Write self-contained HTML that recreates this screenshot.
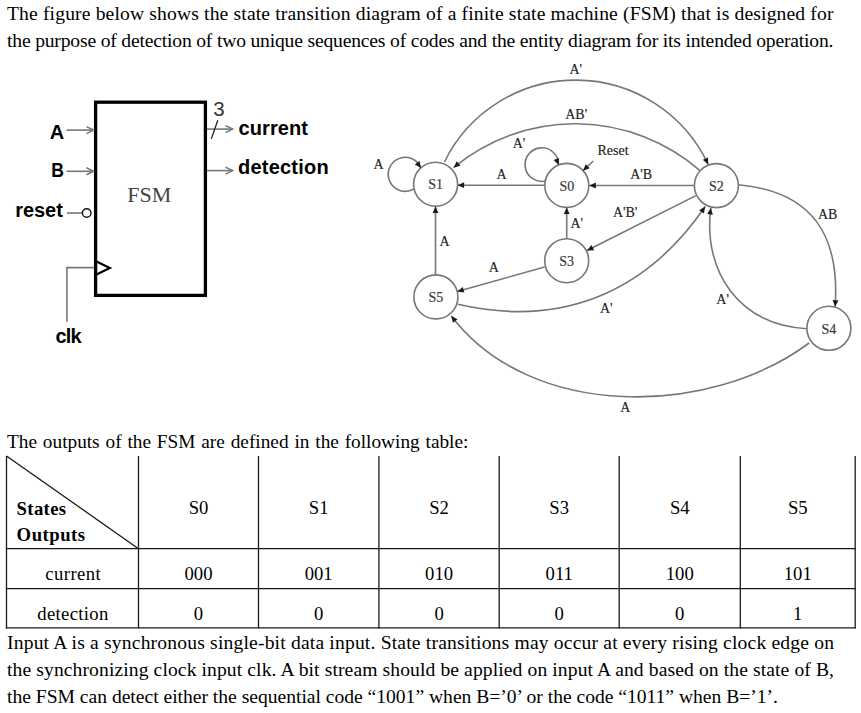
<!DOCTYPE html>
<html><head><meta charset="utf-8"><title>FSM</title>
<style>html,body{margin:0;padding:0;background:#fff;width:861px;height:713px;overflow:hidden}svg{display:block}</style>
</head><body>
<svg width="861" height="713" viewBox="0 0 861 713">
<text x="7" y="19.8" font-family='"Liberation Serif", serif' font-size="19.6" font-weight="400" fill="#000" text-anchor="start" textLength="826.5" lengthAdjust="spacing" >The figure below shows the state transition diagram of a finite state machine (FSM) that is designed for</text>
<text x="7" y="46.6" font-family='"Liberation Serif", serif' font-size="19.6" font-weight="400" fill="#000" text-anchor="start" textLength="826.5" lengthAdjust="spacing" >the purpose of detection of two unique sequences of codes and the entity diagram for its intended operation.</text>
<text x="7" y="447.9" font-family='"Liberation Serif", serif' font-size="19.3" font-weight="400" fill="#000" text-anchor="start" word-spacing="1.05">The outputs of the FSM are defined in the following table:</text>
<text x="7" y="648.6" font-family='"Liberation Serif", serif' font-size="19.6" font-weight="400" fill="#000" text-anchor="start" textLength="827" lengthAdjust="spacing" >Input A is a synchronous single-bit data input. State transitions may occur at every rising clock edge on</text>
<text x="7" y="676.3" font-family='"Liberation Serif", serif' font-size="19.6" font-weight="400" fill="#000" text-anchor="start" textLength="827" lengthAdjust="spacing" >the synchronizing clock input clk. A bit stream should be applied on input A and based on the state of B,</text>
<text x="7" y="703.2" font-family='"Liberation Serif", serif' font-size="19.6" font-weight="400" fill="#000" text-anchor="start" textLength="771" lengthAdjust="spacing" >the FSM can detect either the sequential code “1001” when B=’0’ or the code “1011” when B=’1’.</text>
<rect x="95.6" y="102.2" width="109.8" height="193.2" fill="none" stroke="#000" stroke-width="3.3"/>
<text x="149.2" y="201.5" font-family='"Liberation Serif", serif' font-size="22" font-weight="400" fill="#444" text-anchor="middle" textLength="44" lengthAdjust="spacing" >FSM</text>
<text x="49.8" y="138.6" font-family='"Liberation Sans", sans-serif' font-size="20" font-weight="700" fill="#000" text-anchor="start" >A</text>
<g transform="translate(51.2,176.7) scale(0.88,1)">
<text x="0" y="0" font-family='"Liberation Sans", sans-serif' font-size="20" font-weight="700" fill="#000" text-anchor="start" >B</text>
</g>
<text x="15.2" y="216.8" font-family='"Liberation Sans", sans-serif' font-size="20" font-weight="700" fill="#000" text-anchor="start" textLength="47.6" lengthAdjust="spacing" >reset</text>
<text x="55.5" y="342.5" font-family='"Liberation Sans", sans-serif' font-size="20" font-weight="700" fill="#000" text-anchor="start" textLength="26" lengthAdjust="spacing" >clk</text>
<text x="238.6" y="134.8" font-family='"Liberation Sans", sans-serif' font-size="20" font-weight="700" fill="#000" text-anchor="start" textLength="69.4" lengthAdjust="spacing" >current</text>
<text x="238" y="174.2" font-family='"Liberation Sans", sans-serif' font-size="20" font-weight="700" fill="#000" text-anchor="start" textLength="90.7" lengthAdjust="spacing" >detection</text>
<text x="213.3" y="116" font-family='"Liberation Sans", sans-serif' font-size="20.5" font-weight="400" fill="#333" text-anchor="start" >3</text>
<line x1="66.5" y1="130.1" x2="93.5" y2="130.1" stroke="#777" stroke-width="1.6"/>
<polyline points="86.5,126.6 93.5,130.1 86.5,133.6" fill="none" stroke="#777" stroke-width="1.6"/>
<line x1="66.5" y1="171.3" x2="93.5" y2="171.3" stroke="#777" stroke-width="1.6"/>
<polyline points="86.5,167.8 93.5,171.3 86.5,174.8" fill="none" stroke="#777" stroke-width="1.6"/>
<line x1="207" y1="129.1" x2="232.5" y2="129.1" stroke="#777" stroke-width="1.6"/>
<polyline points="225.5,125.6 232.5,129.1 225.5,132.6" fill="none" stroke="#777" stroke-width="1.6"/>
<line x1="207" y1="170.6" x2="232.5" y2="170.6" stroke="#777" stroke-width="1.6"/>
<polyline points="225.5,167.1 232.5,170.6 225.5,174.1" fill="none" stroke="#777" stroke-width="1.6"/>
<line x1="211.3" y1="138.9" x2="217.8" y2="120.2" stroke="#222" stroke-width="1.3"/>
<line x1="66.9" y1="213" x2="82.2" y2="213" stroke="#777" stroke-width="1.6"/>
<circle cx="86.7" cy="213" r="4.3" fill="#fff" stroke="#111" stroke-width="1.4"/>
<polyline points="66.9,321.8 66.9,267.6 94,267.6" fill="none" stroke="#777" stroke-width="1.6"/>
<polyline points="96.5,261.5 109.8,268.1 96.5,274.5" fill="none" stroke="#000" stroke-width="2.2"/>
<circle cx="435.6" cy="184.2" r="22" fill="none" stroke="#777" stroke-width="1.6"/>
<text x="435.6" y="189.39999999999998" font-family='"Liberation Serif", serif' font-size="14" font-weight="400" fill="#3a3a3a" text-anchor="middle" stroke="#3a3a3a" stroke-width="0.2">S1</text>
<circle cx="566.8" cy="185.4" r="22" fill="none" stroke="#777" stroke-width="1.6"/>
<text x="566.8" y="190.6" font-family='"Liberation Serif", serif' font-size="14" font-weight="400" fill="#3a3a3a" text-anchor="middle" stroke="#3a3a3a" stroke-width="0.2">S0</text>
<circle cx="716.4" cy="185.6" r="22" fill="none" stroke="#777" stroke-width="1.6"/>
<text x="716.4" y="190.79999999999998" font-family='"Liberation Serif", serif' font-size="14" font-weight="400" fill="#3a3a3a" text-anchor="middle" stroke="#3a3a3a" stroke-width="0.2">S2</text>
<circle cx="566.7" cy="260.7" r="22" fill="none" stroke="#777" stroke-width="1.6"/>
<text x="566.7" y="265.9" font-family='"Liberation Serif", serif' font-size="14" font-weight="400" fill="#3a3a3a" text-anchor="middle" stroke="#3a3a3a" stroke-width="0.2">S3</text>
<circle cx="435.9" cy="296.9" r="22" fill="none" stroke="#777" stroke-width="1.6"/>
<text x="435.9" y="302.09999999999997" font-family='"Liberation Serif", serif' font-size="14" font-weight="400" fill="#3a3a3a" text-anchor="middle" stroke="#3a3a3a" stroke-width="0.2">S5</text>
<circle cx="828.9" cy="328.3" r="22" fill="none" stroke="#777" stroke-width="1.6"/>
<text x="828.9" y="333.5" font-family='"Liberation Serif", serif' font-size="14" font-weight="400" fill="#3a3a3a" text-anchor="middle" stroke="#3a3a3a" stroke-width="0.2">S4</text>
<path d="M413.8,189 A17,17 0 1,1 421,168" fill="none" stroke="#777" stroke-width="1.6"/>
<polygon points="421.00,168.00 414.78,164.54 419.42,161.06" fill="#1a1a1a"/>
<path d="M545.5,181 A16.8,16.8 0 1,1 558.6,165" fill="none" stroke="#777" stroke-width="1.6"/>
<polygon points="558.60,165.00 553.62,159.92 559.06,157.90" fill="#1a1a1a"/>
<line x1="544.5" y1="185.2" x2="457.6" y2="185.2" stroke="#777" stroke-width="1.6"/>
<polygon points="457.60,185.20 464.10,182.30 464.10,188.10" fill="#1a1a1a"/>
<line x1="694" y1="185.5" x2="589.3" y2="185.5" stroke="#777" stroke-width="1.6"/>
<polygon points="589.30,185.50 595.80,182.60 595.80,188.40" fill="#1a1a1a"/>
<line x1="593.3" y1="161" x2="583" y2="170.7" stroke="#777" stroke-width="1.6"/>
<polygon points="583.00,170.70 585.74,164.13 589.72,168.35" fill="#1a1a1a"/>
<line x1="566.7" y1="238.3" x2="566.7" y2="207.6" stroke="#777" stroke-width="1.6"/>
<polygon points="566.70,207.60 569.60,214.10 563.80,214.10" fill="#1a1a1a"/>
<line x1="435.5" y1="274.4" x2="435.5" y2="206.4" stroke="#777" stroke-width="1.6"/>
<polygon points="435.50,206.40 438.40,212.90 432.60,212.90" fill="#1a1a1a"/>
<line x1="695.9" y1="195.6" x2="587" y2="250.5" stroke="#777" stroke-width="1.6"/>
<polygon points="587.00,250.50 591.50,244.98 594.11,250.16" fill="#1a1a1a"/>
<line x1="544.6" y1="267" x2="457.3" y2="291.5" stroke="#777" stroke-width="1.6"/>
<polygon points="457.30,291.50 462.77,286.95 464.34,292.54" fill="#1a1a1a"/>
<path d="M444.4,162 A146.23,146.23 0 0,1 708.2,164.5" fill="none" stroke="#777" stroke-width="1.6"/>
<polygon points="708.20,164.50 702.82,159.84 708.08,157.38" fill="#1a1a1a"/>
<path d="M699.7,170.3 A190.29,190.29 0 0,0 453.6,167.6" fill="none" stroke="#777" stroke-width="1.6"/>
<polygon points="453.60,167.60 456.75,161.22 460.45,165.68" fill="#1a1a1a"/>
<path d="M738.4,184.7 C813.4,191.6 840.1,236.3 835.1,306.7" fill="none" stroke="#777" stroke-width="1.6"/>
<polygon points="835.10,306.70 832.67,300.01 838.45,300.42" fill="#1a1a1a"/>
<path d="M807.0,328.7 C739.9,324.9 702.6,272.6 710.8,207.9" fill="none" stroke="#777" stroke-width="1.6"/>
<polygon points="710.80,207.90 712.86,214.71 707.11,213.98" fill="#1a1a1a"/>
<path d="M457.8,304.3 C560.9,328.0 646.0,293.0 705.2,206.5" fill="none" stroke="#777" stroke-width="1.6"/>
<polygon points="705.20,206.50 703.92,213.50 699.14,210.23" fill="#1a1a1a"/>
<path d="M809.1,343.0 C710.0,416.9 531.3,421.0 451.3,315.9" fill="none" stroke="#777" stroke-width="1.6"/>
<polygon points="451.30,315.90 457.54,319.32 452.93,322.83" fill="#1a1a1a"/>
<text x="569.4" y="74" font-family='"Liberation Serif", serif' font-size="14" font-weight="400" fill="#222" text-anchor="start" stroke="#222" stroke-width="0.15">A'</text>
<text x="565.2" y="119.2" font-family='"Liberation Serif", serif' font-size="14" font-weight="400" fill="#222" text-anchor="start" stroke="#222" stroke-width="0.15">AB'</text>
<text x="373.5" y="168.8" font-family='"Liberation Serif", serif' font-size="14" font-weight="400" fill="#222" text-anchor="start" stroke="#222" stroke-width="0.15">A</text>
<text x="512.7" y="148.4" font-family='"Liberation Serif", serif' font-size="14" font-weight="400" fill="#222" text-anchor="start" stroke="#222" stroke-width="0.15">A'</text>
<text x="597.5" y="155" font-family='"Liberation Serif", serif' font-size="14" font-weight="400" fill="#222" text-anchor="start" stroke="#222" stroke-width="0.15">Reset</text>
<text x="496.6" y="179" font-family='"Liberation Serif", serif' font-size="14" font-weight="400" fill="#222" text-anchor="start" stroke="#222" stroke-width="0.15">A</text>
<text x="630.2" y="179.3" font-family='"Liberation Serif", serif' font-size="14" font-weight="400" fill="#222" text-anchor="start" stroke="#222" stroke-width="0.15">A'B</text>
<text x="612.9" y="216.9" font-family='"Liberation Serif", serif' font-size="14" font-weight="400" fill="#222" text-anchor="start" stroke="#222" stroke-width="0.15">A'B'</text>
<text x="570.5" y="228.4" font-family='"Liberation Serif", serif' font-size="14" font-weight="400" fill="#222" text-anchor="start" stroke="#222" stroke-width="0.15">A'</text>
<text x="439.6" y="246" font-family='"Liberation Serif", serif' font-size="14" font-weight="400" fill="#222" text-anchor="start" stroke="#222" stroke-width="0.15">A</text>
<text x="488.7" y="272.4" font-family='"Liberation Serif", serif' font-size="14" font-weight="400" fill="#222" text-anchor="start" stroke="#222" stroke-width="0.15">A</text>
<text x="817.9" y="219" font-family='"Liberation Serif", serif' font-size="14" font-weight="400" fill="#222" text-anchor="start" stroke="#222" stroke-width="0.15">AB</text>
<text x="599.9" y="312.8" font-family='"Liberation Serif", serif' font-size="14" font-weight="400" fill="#222" text-anchor="start" stroke="#222" stroke-width="0.15">A'</text>
<text x="716.3" y="303.6" font-family='"Liberation Serif", serif' font-size="14" font-weight="400" fill="#222" text-anchor="start" stroke="#222" stroke-width="0.15">A'</text>
<text x="620.2" y="411.8" font-family='"Liberation Serif", serif' font-size="14" font-weight="400" fill="#222" text-anchor="start" stroke="#222" stroke-width="0.15">A</text>
<line x1="6.5" y1="456" x2="6.5" y2="628.4" stroke="#1a1a1a" stroke-width="1.3"/>
<line x1="138.5" y1="456" x2="138.5" y2="628.4" stroke="#1a1a1a" stroke-width="1.3"/>
<line x1="258.5" y1="456" x2="258.5" y2="628.4" stroke="#1a1a1a" stroke-width="1.3"/>
<line x1="378.9" y1="456" x2="378.9" y2="628.4" stroke="#1a1a1a" stroke-width="1.3"/>
<line x1="499.2" y1="456" x2="499.2" y2="628.4" stroke="#1a1a1a" stroke-width="1.3"/>
<line x1="619.2" y1="456" x2="619.2" y2="628.4" stroke="#1a1a1a" stroke-width="1.3"/>
<line x1="740.3" y1="456" x2="740.3" y2="628.4" stroke="#1a1a1a" stroke-width="1.3"/>
<line x1="855.2" y1="456" x2="855.2" y2="628.4" stroke="#1a1a1a" stroke-width="1.3"/>
<line x1="5.85" y1="548.7" x2="855.85" y2="548.7" stroke="#1a1a1a" stroke-width="1.3"/>
<line x1="5.85" y1="588.7" x2="855.85" y2="588.7" stroke="#1a1a1a" stroke-width="1.3"/>
<line x1="5.85" y1="627.8" x2="855.85" y2="627.8" stroke="#1a1a1a" stroke-width="1.3"/>
<line x1="6.5" y1="456" x2="138.5" y2="548.7" stroke="#1a1a1a" stroke-width="1.3"/>
<text x="16.6" y="514.9" font-family='"Liberation Serif", serif' font-size="18.67" font-weight="700" fill="#000" text-anchor="start" textLength="49.5" lengthAdjust="spacing" >States</text>
<text x="16.6" y="540.9" font-family='"Liberation Serif", serif' font-size="18.67" font-weight="700" fill="#000" text-anchor="start" textLength="68.5" lengthAdjust="spacing" >Outputs</text>
<text x="198.5" y="514" font-family='"Liberation Serif", serif' font-size="18.67" font-weight="400" fill="#000" text-anchor="middle" >S0</text>
<text x="198.5" y="580.2" font-family='"Liberation Serif", serif' font-size="18.67" font-weight="400" fill="#000" text-anchor="middle" >000</text>
<text x="198.5" y="619.6" font-family='"Liberation Serif", serif' font-size="18.67" font-weight="400" fill="#000" text-anchor="middle" >0</text>
<text x="318.7" y="514" font-family='"Liberation Serif", serif' font-size="18.67" font-weight="400" fill="#000" text-anchor="middle" >S1</text>
<text x="318.7" y="580.2" font-family='"Liberation Serif", serif' font-size="18.67" font-weight="400" fill="#000" text-anchor="middle" >001</text>
<text x="318.7" y="619.6" font-family='"Liberation Serif", serif' font-size="18.67" font-weight="400" fill="#000" text-anchor="middle" >0</text>
<text x="439.04999999999995" y="514" font-family='"Liberation Serif", serif' font-size="18.67" font-weight="400" fill="#000" text-anchor="middle" >S2</text>
<text x="439.04999999999995" y="580.2" font-family='"Liberation Serif", serif' font-size="18.67" font-weight="400" fill="#000" text-anchor="middle" >010</text>
<text x="439.04999999999995" y="619.6" font-family='"Liberation Serif", serif' font-size="18.67" font-weight="400" fill="#000" text-anchor="middle" >0</text>
<text x="559.2" y="514" font-family='"Liberation Serif", serif' font-size="18.67" font-weight="400" fill="#000" text-anchor="middle" >S3</text>
<text x="559.2" y="580.2" font-family='"Liberation Serif", serif' font-size="18.67" font-weight="400" fill="#000" text-anchor="middle" >011</text>
<text x="559.2" y="619.6" font-family='"Liberation Serif", serif' font-size="18.67" font-weight="400" fill="#000" text-anchor="middle" >0</text>
<text x="679.75" y="514" font-family='"Liberation Serif", serif' font-size="18.67" font-weight="400" fill="#000" text-anchor="middle" >S4</text>
<text x="679.75" y="580.2" font-family='"Liberation Serif", serif' font-size="18.67" font-weight="400" fill="#000" text-anchor="middle" >100</text>
<text x="679.75" y="619.6" font-family='"Liberation Serif", serif' font-size="18.67" font-weight="400" fill="#000" text-anchor="middle" >0</text>
<text x="797.75" y="514" font-family='"Liberation Serif", serif' font-size="18.67" font-weight="400" fill="#000" text-anchor="middle" >S5</text>
<text x="797.75" y="580.2" font-family='"Liberation Serif", serif' font-size="18.67" font-weight="400" fill="#000" text-anchor="middle" >101</text>
<text x="797.75" y="619.6" font-family='"Liberation Serif", serif' font-size="18.67" font-weight="400" fill="#000" text-anchor="middle" >1</text>
<text x="73" y="580.2" font-family='"Liberation Serif", serif' font-size="18.67" font-weight="400" fill="#000" text-anchor="middle" textLength="55.5" lengthAdjust="spacing" >current</text>
<text x="72.8" y="619.6" font-family='"Liberation Serif", serif' font-size="18.67" font-weight="400" fill="#000" text-anchor="middle" textLength="71" lengthAdjust="spacing" >detection</text>
</svg>
</body></html>
